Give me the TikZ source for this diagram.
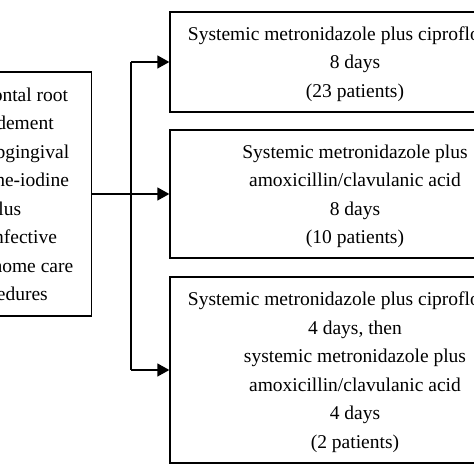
\documentclass[tikz,border=0pt]{standalone}
\usepackage{fontspec}
\setmainfont{Liberation Serif}
\usetikzlibrary{arrows.meta}
\usetikzlibrary{positioning}
\tikzset{stepbox/.style = {draw, line width = 1.3pt, align = center, inner sep = 0,
    text depth = 0pt, font = \fontsize{19.5}{28.5}\selectfont}}
\tikzset{flow/.style = {line width = 1.3pt, -{Triangle[length = 12pt, width = 13pt]}}}

\begin{document}
\begin{tikzpicture}[x = 1pt, y = 1pt]
    \useasboundingbox (0, 0) rectangle (474, 474);

    \node [stepbox, minimum width = 173, minimum height = 244] (sdp) at (5, 280)
        {Periodontal root\\debridement\\plus subgingival\\povidone-iodine\\plus\\anti-infective\\proper home care\\procedures};

    \node [stepbox, minimum width = 370, minimum height = 100] (mc) at (355, 412)
        {Systemic metronidazole plus ciprofloxacin\\8 days\\(23 patients)};
    \node [stepbox, minimum width = 370, minimum height = 128] (ma) at (355, 280)
        {Systemic metronidazole plus\\amoxicillin/clavulanic acid\\8 days\\(10 patients)};
    \node [stepbox, minimum width = 370, minimum height = 186] (mcma) at (355, 104)
        {Systemic metronidazole plus ciprofloxacin\\4 days, then\\systemic metronidazole plus\\amoxicillin/clavulanic acid\\4 days\\(2 patients)};

    \coordinate (split top) at (131, 412);
    \coordinate (split bot) at (131, 104);

    \draw [line width = 1.3pt] (split top) -- (split bot);
    \draw [flow] (sdp.east) -- (ma.west);
    \draw [flow] (split top) -- (mc.west);
    \draw [flow] (split bot) -- (mcma.west);
  \end{tikzpicture}
\end{document}
